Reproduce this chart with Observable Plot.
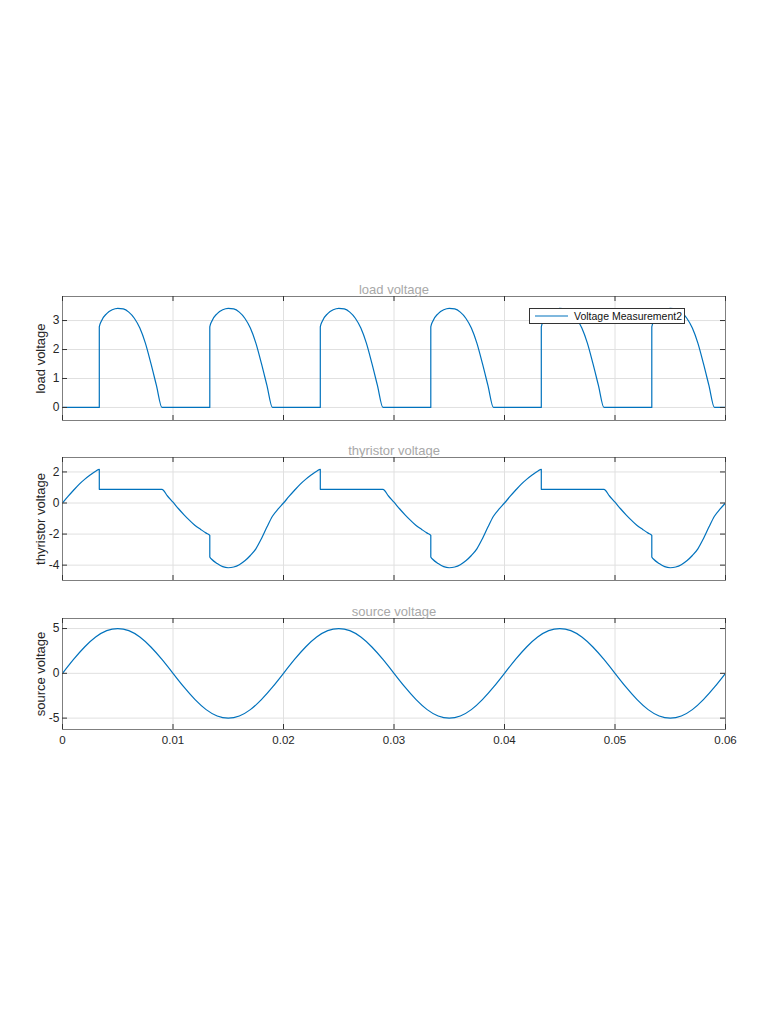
<!DOCTYPE html>
<html><head><meta charset="utf-8">
<script src="https://cdn.jsdelivr.net/npm/d3@7"></script>
<script src="https://cdn.jsdelivr.net/npm/@observablehq/plot@0.6"></script>
<style>
body{margin:0;background:#fff;}
#wrap{position:relative;width:768px;height:1024px;font-family:"Liberation Sans",Arial,sans-serif;background:#fff;}
.panel{position:absolute;left:0;}
.legend{position:absolute;left:529px;top:308px;width:156px;height:16px;border:1px solid #333;background:#fff;box-sizing:border-box;font-size:10.5px;color:#111;}
.legend svg{position:absolute;left:5px;top:6px;}
.legend span{position:absolute;left:44px;top:1px;white-space:nowrap;}
</style></head><body><div id="wrap"></div>
<script>
// ---- data ----
const xTicks = [0, 0.01, 0.02, 0.03, 0.04, 0.05, 0.06];

const loadT = [0,
  0.00333, 0.00333, 0.0035, 0.004, 0.0045, 0.005, 0.0055, 0.006, 0.0065, 0.007, 0.0075, 0.008, 0.0085, 0.009,
  0.01333, 0.01333, 0.0135, 0.014, 0.0145, 0.015, 0.0155, 0.016, 0.0165, 0.017, 0.0175, 0.018, 0.0185, 0.019,
  0.02333, 0.02333, 0.0235, 0.024, 0.0245, 0.025, 0.0255, 0.026, 0.0265, 0.027, 0.0275, 0.028, 0.0285, 0.029,
  0.03333, 0.03333, 0.0335, 0.034, 0.0345, 0.035, 0.0355, 0.036, 0.0365, 0.037, 0.0375, 0.038, 0.0385, 0.039,
  0.04333, 0.04333, 0.0435, 0.044, 0.0445, 0.045, 0.0455, 0.046, 0.0465, 0.047, 0.0475, 0.048, 0.0485, 0.049,
  0.05333, 0.05333, 0.0535, 0.054, 0.0545, 0.055, 0.0555, 0.056, 0.0565, 0.057, 0.0575, 0.058, 0.0585, 0.059,
  0.06];
const loadV = [0,
  0, 2.78, 2.97, 3.24, 3.37, 3.42, 3.40, 3.29, 3.08, 2.74, 2.22, 1.52, 0.76, 0,
  0, 2.78, 2.97, 3.24, 3.37, 3.42, 3.40, 3.29, 3.08, 2.74, 2.22, 1.52, 0.76, 0,
  0, 2.78, 2.97, 3.24, 3.37, 3.42, 3.40, 3.29, 3.08, 2.74, 2.22, 1.52, 0.76, 0,
  0, 2.78, 2.97, 3.24, 3.37, 3.42, 3.40, 3.29, 3.08, 2.74, 2.22, 1.52, 0.76, 0,
  0, 2.78, 2.97, 3.24, 3.37, 3.42, 3.40, 3.29, 3.08, 2.74, 2.22, 1.52, 0.76, 0,
  0, 2.78, 2.97, 3.24, 3.37, 3.42, 3.40, 3.29, 3.08, 2.74, 2.22, 1.52, 0.76, 0,
  0];

const thyT = [
  0, 0.0005, 0.001, 0.0015, 0.002, 0.0025, 0.003, 0.00333, 0.00333, 0.009, 0.0095, 0.01, 0.0105, 0.011, 0.0115, 0.012, 0.0125, 0.013, 0.01333,
  0.01333, 0.0135, 0.014, 0.0145, 0.015, 0.0155, 0.016, 0.0165, 0.017, 0.0175, 0.018, 0.0185, 0.019, 0.0195,
  0.02, 0.0205, 0.021, 0.0215, 0.022, 0.0225, 0.023, 0.02333, 0.02333, 0.029, 0.0295, 0.03, 0.0305, 0.031, 0.0315, 0.032, 0.0325, 0.033, 0.03333,
  0.03333, 0.0335, 0.034, 0.0345, 0.035, 0.0355, 0.036, 0.0365, 0.037, 0.0375, 0.038, 0.0385, 0.039, 0.0395,
  0.04, 0.0405, 0.041, 0.0415, 0.042, 0.0425, 0.043, 0.04333, 0.04333, 0.049, 0.0495, 0.05, 0.0505, 0.051, 0.0515, 0.052, 0.0525, 0.053, 0.05333,
  0.05333, 0.0535, 0.054, 0.0545, 0.055, 0.0555, 0.056, 0.0565, 0.057, 0.0575, 0.058, 0.0585, 0.059, 0.0595,
  0.06];
const thyV = [
  0, 0.42, 0.82, 1.20, 1.52, 1.80, 2.05, 2.17, 0.88, 0.88, 0.45, 0.05, -0.37, -0.76, -1.12, -1.45, -1.70, -1.94, -2.08,
  -3.48, -3.62, -3.90, -4.10, -4.17, -4.12, -3.97, -3.72, -3.38, -2.95, -2.30, -1.55, -0.85, -0.40,
  0, 0.42, 0.82, 1.20, 1.52, 1.80, 2.05, 2.17, 0.88, 0.88, 0.45, 0.05, -0.37, -0.76, -1.12, -1.45, -1.70, -1.94, -2.08,
  -3.48, -3.62, -3.90, -4.10, -4.17, -4.12, -3.97, -3.72, -3.38, -2.95, -2.30, -1.55, -0.85, -0.40,
  0, 0.42, 0.82, 1.20, 1.52, 1.80, 2.05, 2.17, 0.88, 0.88, 0.45, 0.05, -0.37, -0.76, -1.12, -1.45, -1.70, -1.94, -2.08,
  -3.48, -3.62, -3.90, -4.10, -4.17, -4.12, -3.97, -3.72, -3.38, -2.95, -2.30, -1.55, -0.85, -0.40,
  0];

const srcT = [0,0.001,0.002,0.003,0.004,0.005,0.006,0.007,0.008,0.009,
  0.01,0.011,0.012,0.013,0.014,0.015,0.016,0.017,0.018,0.019,
  0.02,0.021,0.022,0.023,0.024,0.025,0.026,0.027,0.028,0.029,
  0.03,0.031,0.032,0.033,0.034,0.035,0.036,0.037,0.038,0.039,
  0.04,0.041,0.042,0.043,0.044,0.045,0.046,0.047,0.048,0.049,
  0.05,0.051,0.052,0.053,0.054,0.055,0.056,0.057,0.058,0.059,0.06];
const srcV = [0,1.55,2.94,4.05,4.76,5,4.76,4.05,2.94,1.55,
  0,-1.55,-2.94,-4.05,-4.76,-5,-4.76,-4.05,-2.94,-1.55,
  0,1.55,2.94,4.05,4.76,5,4.76,4.05,2.94,1.55,
  0,-1.55,-2.94,-4.05,-4.76,-5,-4.76,-4.05,-2.94,-1.55,
  0,1.55,2.94,4.05,4.76,5,4.76,4.05,2.94,1.55,
  0,-1.55,-2.94,-4.05,-4.76,-5,-4.76,-4.05,-2.94,-1.55,0];

const titles = ["load voltage", "thyristor voltage", "source voltage"];
const legendLabel = "Voltage Measurement2";

// ---- drawing ----
const FONT = '"Liberation Sans", Arial, sans-serif';
const LINE = "#0072BD";
const wrap = document.getElementById("wrap");

function panel({t, v, domain, yTicks, title, top, frameH, marginBottom, showX, curve}) {
  const mT = 20, mL = 62, mR = 43;
  const frameW = 768 - mL - mR;
  const data = t.map((x, i) => ({t: x, v: v[i]}));
  const marks = [
    Plot.gridX(xTicks, {stroke: "#e0e0e0", strokeOpacity: 1, strokeWidth: 1}),
    Plot.gridY(yTicks, {stroke: "#e0e0e0", strokeOpacity: 1, strokeWidth: 1}),
    Plot.line(data, {x: "t", y: "v", stroke: LINE, strokeWidth: 1.2, curve}),
    Plot.frame({stroke: "#7f7f7f", strokeWidth: 1}),
    Plot.tickX(xTicks, {x: d => d, insetTop: frameH - 5, stroke: "#333"}),
    Plot.tickX(xTicks, {x: d => d, insetBottom: frameH - 5, stroke: "#333"}),
    Plot.tickY(yTicks, {y: d => d, insetRight: frameW - 5, stroke: "#333"}),
    Plot.tickY(yTicks, {y: d => d, insetLeft: frameW - 5, stroke: "#333"}),
    Plot.axisY({anchor: "left", ticks: yTicks, tickSize: 0, tickPadding: 3, fontSize: 12,
      tickFormat: d => String(d), label: null}),
    Plot.text([title], {frameAnchor: "left", textAnchor: "middle", lineAnchor: "middle", rotate: -90, dx: -22, fontSize: 13, fill: "#262626"}),
    Plot.text([title], {frameAnchor: "top", lineAnchor: "bottom", dy: -3, fill: "#a8a8a8", fontSize: 13})
  ];
  if (showX) marks.push(Plot.axisX({anchor: "bottom", ticks: xTicks, tickSize: 0, tickPadding: 6,
    fontSize: 11.5, label: null, tickFormat: d => String(d)}));
  const chart = Plot.plot({
    width: 768, height: mT + frameH + marginBottom,
    marginTop: mT, marginLeft: mL, marginRight: mR, marginBottom,
    style: {fontFamily: FONT, fontSize: "12px", color: "#262626", background: "transparent", overflow: "visible"},
    x: {domain: [0, 0.06], axis: null},
    y: {domain, axis: null},
    marks
  });
  chart.classList.add("panel");
  chart.style.top = (top - mT) + "px";
  wrap.appendChild(chart);
  return chart;
}

panel({t: loadT, v: loadV, domain: [-0.45, 3.83], yTicks: [0, 1, 2, 3], title: titles[0], top: 296, frameH: 124, marginBottom: 5, curve: "monotone-x"});
panel({t: thyT, v: thyV, domain: [-4.99, 2.93], yTicks: [-4, -2, 0, 2], title: titles[1], top: 457, frameH: 123, marginBottom: 5, curve: "monotone-x"});
panel({t: srcT, v: srcV, domain: [-6.27, 6.12], yTicks: [-5, 0, 5], title: titles[2], top: 618, frameH: 111, marginBottom: 25, showX: true, curve: "natural"});

// legend
const lg = document.createElement("div");
lg.className = "legend";
lg.innerHTML = `<svg width="34" height="2"><line x1="0" y1="1" x2="33" y2="1" stroke="${LINE}" stroke-width="1.2"/></svg><span>${legendLabel}</span>`;
wrap.appendChild(lg);
</script>
</body></html>
